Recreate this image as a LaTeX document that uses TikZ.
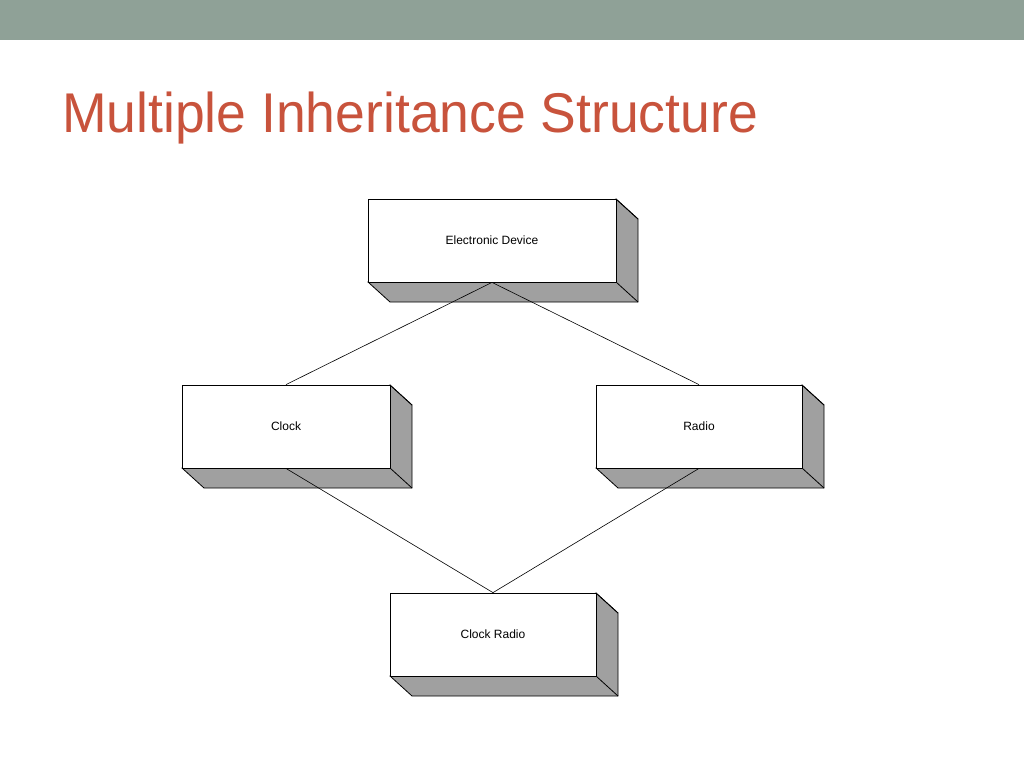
\documentclass[tikz,border=0pt]{standalone}
\usepackage{fontspec}
\setmainfont{Liberation Sans}
\definecolor{barcol}{HTML}{8FA197}
\definecolor{titlecol}{HTML}{C8533C}
\definecolor{boxgrey}{HTML}{A0A0A0}
\newcommand\dx{22}
\newcommand\dy{20}
% extruded box: name, left, top, width, height, label
\newcommand\boxnode[6]{
	\filldraw[fill=boxgrey,draw=black,thick] (#2,#3+#5) -- ++(\dx,\dy) -- ++(#4,0) -- ++(0,-#5) -- ++(-\dx,-\dy) -- cycle;
	\draw[thick] (#2+#4,#3) -- ++(\dx,\dy) (#2+#4,#3+#5) -- ++(\dx,\dy);
	\node (#1) at (#2 + #4 / 2,#3 + #5 / 2) [draw,thick,fill=white,minimum width=#4pt,minimum height=#5pt,inner sep=0pt,font=\fontsize{12}{14}\selectfont] {#6};
}
\begin{document}
\begin{tikzpicture}[x=1pt,y=-1pt]
	\useasboundingbox (0,0) rectangle (1024,768);
	\fill[barcol] (0,0) rectangle (1024,40);
	\node (title) at (62,118) [anchor=west,inner sep=0pt,text=titlecol,font=\fontsize{50}{60}\selectfont] {\scalebox{1.07}[1.12]{Multiple Inheritance Structure}};
	
	% draw boxes
	\boxnode{device}{368}{199}{248}{83}{Electronic Device}
	\boxnode{clock}{182}{385}{208}{83}{Clock}
	\boxnode{radio}{596}{385}{206}{83}{Radio}
	\boxnode{clockradio}{390}{593}{206}{83}{Clock Radio}
	
	% draw connections
	\draw[semithick] (device.south) -- (clock.north);
	\draw[semithick] (device.south) -- (radio.north);
	\draw[semithick] (clock.south) -- (clockradio.north);
	\draw[semithick] (radio.south) -- (clockradio.north);
\end{tikzpicture}
\end{document}
